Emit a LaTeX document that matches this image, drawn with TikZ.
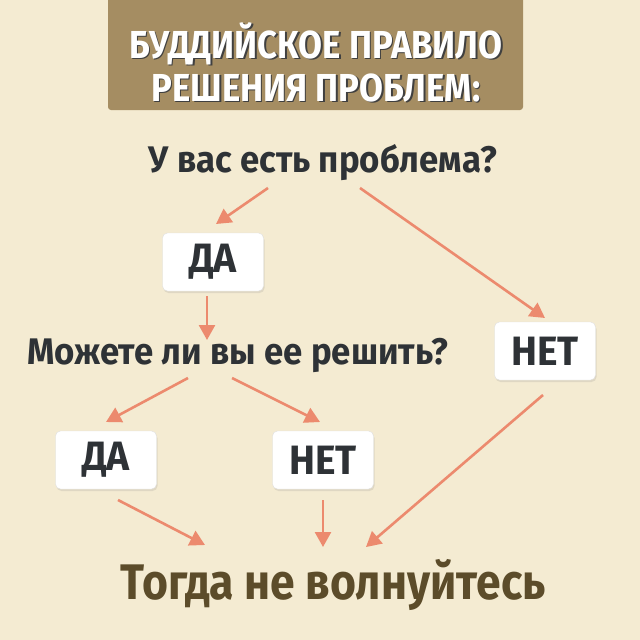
\documentclass[tikz,border=0pt]{standalone}
\usepackage{fontspec}
\setmainfont{Fira Sans}
\newfontfamily\condbold[FakeStretch=0.94]{Fira Sans Bold}
\newfontfamily\titlebold[FakeStretch=0.89]{Fira Sans Bold}
\newfontfamily\boxbold[FakeStretch=0.95]{Fira Sans Bold}
\usetikzlibrary{arrows.meta,shadows}
\definecolor{bgcream}{HTML}{F4EBD2}
\definecolor{titlebox}{HTML}{A58D62}
\definecolor{inkdark}{HTML}{2E3236}
\definecolor{olive}{HTML}{5C4C2A}
\definecolor{salmon}{HTML}{EC8A6E}
\tikzset{
  ans/.style={draw=black!12, fill=white, rounded corners=5pt, minimum width=101pt, minimum height=58pt,
    font=\boxbold\fontsize{41}{41}\selectfont, text=inkdark, inner sep=0pt,
    drop shadow={opacity=0.18, shadow xshift=1pt, shadow yshift=-2pt}},
  question/.style={font=\condbold\fontsize{37}{40}\selectfont, text=inkdark, inner sep=0pt},
  conn/.style={draw=salmon, line width=2.6pt, -{Triangle[length=15pt,width=16pt]}},
  titletxt/.style={font=\titlebold\fontsize{39}{43}\selectfont, align=center, inner sep=0pt},
}
\begin{document}
\begin{tikzpicture}[x=1pt,y=-1pt]
\useasboundingbox (0,0) rectangle (640,640);
\fill[bgcream] (0,0) rectangle (640,640);
% title
\fill[titlebox, rounded corners=3pt] (108,-5) rectangle (523,110);
\node[titletxt, text=black!75] (titleshadow) at (317.5,63.5) {БУДДИЙСКОЕ ПРАВИЛО\\РЕШЕНИЯ ПРОБЛЕМ:};
\node[titletxt, text=white] (title) at (316,62) {БУДДИЙСКОЕ ПРАВИЛО\\РЕШЕНИЯ ПРОБЛЕМ:};
% nodes
\node[question] (q1) at (323,163) {У вас есть проблема?};
\node[ans] (da1) at (213,262) {ДА};
\node[ans] (net1) at (545,351) {НЕТ};
\node[question] (q2) at (238,355) {Можете ли вы ее решить?};
\node[ans] (da2) at (106,460) {ДА};
\node[ans] (net2) at (323,460) {НЕТ};
\node[font=\titlebold\fontsize{50}{54}\selectfont, text=olive, inner sep=0pt] (end) at (333,585) {Тогда не волнуйтесь};
% connector endpoints
\coordinate (q1a) at (268,188);
\coordinate (q1b) at (360,188);
\coordinate (da1s) at (207,296);
\coordinate (q2a) at (188,378);
\coordinate (q2b) at (232,378);
\coordinate (da2s) at (118,500);
\coordinate (net2s) at (323,500);
\coordinate (net1s) at (543,395);
\coordinate (da1t) at (216,224);
\coordinate (net1t) at (545,318);
\coordinate (q2t) at (207,340);
\coordinate (da2t) at (106,422);
\coordinate (net2t) at (320,422);
\coordinate (enda) at (205,545);
\coordinate (endb) at (323,547);
\coordinate (endc) at (366,547);
% connectors
\draw[conn] (q1a) -- (da1t);
\draw[conn] (q1b) -- (net1t);
\draw[conn] (da1s) -- (q2t);
\draw[conn] (q2a) -- (da2t);
\draw[conn] (q2b) -- (net2t);
\draw[conn] (da2s) -- (enda);
\draw[conn] (net2s) -- (endb);
\draw[conn] (net1s) -- (endc);
\end{tikzpicture}
\end{document}
